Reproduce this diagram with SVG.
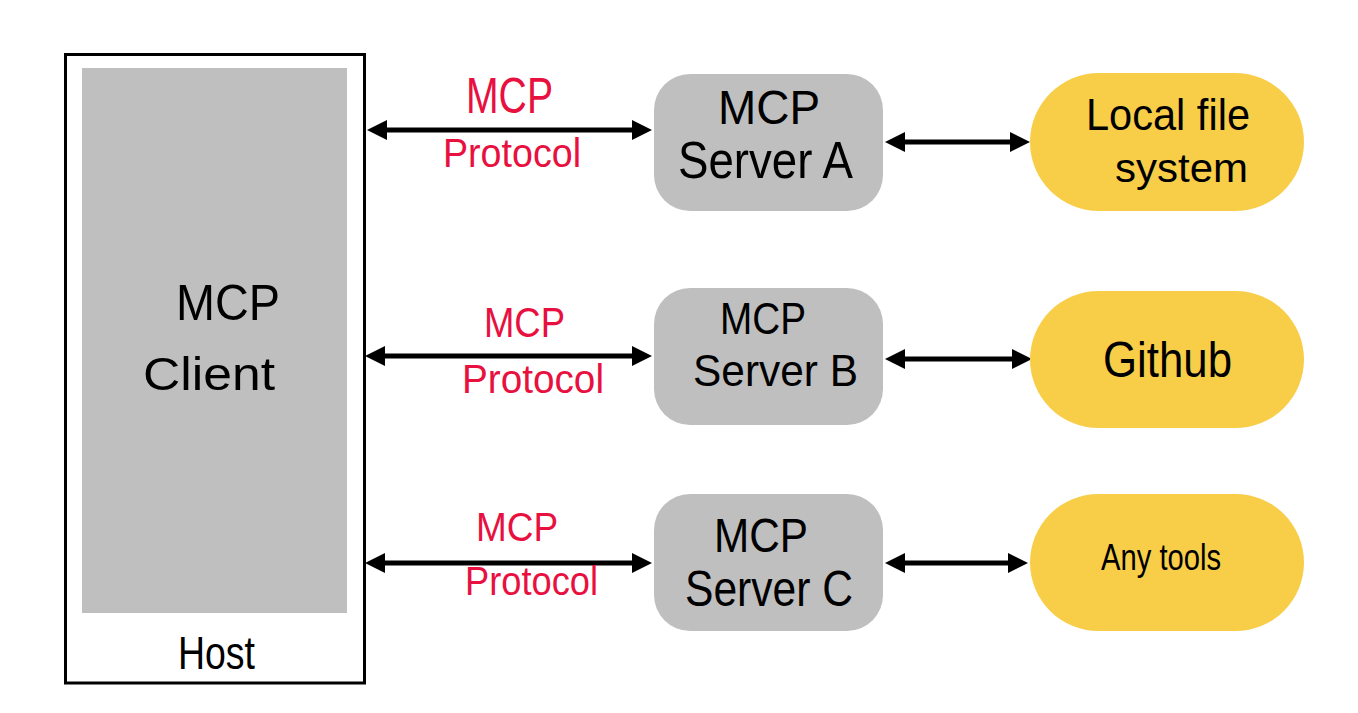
<svg xmlns="http://www.w3.org/2000/svg" width="1358" height="713" viewBox="0 0 1358 713">
<style>
text{font-family:"Liberation Sans",Arial,sans-serif;font-weight:400}
.k{fill:#000}
.r{fill:#e8103f}
.srv{fill:#bfbfbf}
.tool{fill:#f8ce48}
.c{fill:none;stroke:#000;stroke-width:5;marker-start:url(#h);marker-end:url(#h)}
</style>
<defs>
<marker id="h" markerUnits="userSpaceOnUse" markerWidth="21" markerHeight="22" refX="1" refY="11" orient="auto-start-reverse"><path d="M0 1L20 11L0 21Z" fill="#000"/></marker>
</defs>
<rect width="1358" height="713" fill="#fff"/>
<g id="host">
<rect x="65.5" y="54.5" width="299" height="628.500" fill="#fff" stroke="#000" stroke-width="3"/>
<text class="k" x="178" y="669" font-size="46" textLength="77" lengthAdjust="spacingAndGlyphs">Host</text>
</g>
<g id="client">
<rect x="82" y="68" width="265" height="545" fill="#bfbfbf"/>
<text class="k" x="176" y="320" font-size="50" textLength="104" lengthAdjust="spacingAndGlyphs">MCP</text>
<text class="k" x="143" y="390" font-size="46" textLength="132" lengthAdjust="spacingAndGlyphs">Client</text>
</g>
<g id="connectors">
<path class="c" d="M386 130H633"/>
<path class="c" d="M384 356H633"/>
<path class="c" d="M384 563H633"/>
<path class="c" d="M904 142H1011"/>
<path class="c" d="M904 359H1013"/>
<path class="c" d="M904 563H1009"/>
</g>
<g id="label-a">
<text class="r" x="466" y="113" font-size="50" textLength="87" lengthAdjust="spacingAndGlyphs">MCP</text>
<text class="r" x="443" y="167" font-size="40" textLength="138" lengthAdjust="spacingAndGlyphs">Protocol</text>
</g>
<g id="label-b">
<text class="r" x="484" y="337" font-size="42" textLength="81" lengthAdjust="spacingAndGlyphs">MCP</text>
<text class="r" x="462" y="393" font-size="40" textLength="142" lengthAdjust="spacingAndGlyphs">Protocol</text>
</g>
<g id="label-c">
<text class="r" x="476" y="541" font-size="40" textLength="82" lengthAdjust="spacingAndGlyphs">MCP</text>
<text class="r" x="465" y="595" font-size="40" textLength="133" lengthAdjust="spacingAndGlyphs">Protocol</text>
</g>
<g id="server-a">
<rect class="srv" x="654" y="74" width="229" height="137" rx="36"/>
<text class="k" x="718" y="124" font-size="48" textLength="102" lengthAdjust="spacingAndGlyphs">MCP</text>
<text class="k" x="678" y="178" font-size="52" textLength="175" lengthAdjust="spacingAndGlyphs">Server A</text>
</g>
<g id="server-b">
<rect class="srv" x="654" y="288" width="229" height="137" rx="36"/>
<text class="k" x="720" y="334" font-size="44" textLength="86" lengthAdjust="spacingAndGlyphs">MCP</text>
<text class="k" x="693" y="386" font-size="44" textLength="165" lengthAdjust="spacingAndGlyphs">Server B</text>
</g>
<g id="server-c">
<rect class="srv" x="654" y="494" width="229" height="137" rx="36"/>
<text class="k" x="714" y="552" font-size="48" textLength="94" lengthAdjust="spacingAndGlyphs">MCP</text>
<text class="k" x="685" y="606" font-size="50" textLength="168" lengthAdjust="spacingAndGlyphs">Server C</text>
</g>
<g id="tool-local">
<rect class="tool" x="1030" y="73" width="274" height="138" rx="69"/>
<text class="k" x="1086" y="130" font-size="44" textLength="164" lengthAdjust="spacingAndGlyphs">Local file</text>
<text class="k" x="1115" y="182" font-size="40" textLength="133" lengthAdjust="spacingAndGlyphs">system</text>
</g>
<g id="tool-github">
<rect class="tool" x="1030" y="291" width="274" height="137" rx="68.500"/>
<text class="k" x="1103" y="377" font-size="50" textLength="129" lengthAdjust="spacingAndGlyphs">Github</text>
</g>
<g id="tool-any">
<rect class="tool" x="1030" y="494" width="274" height="137" rx="68.500"/>
<text class="k" x="1101" y="570" font-size="36" textLength="120" lengthAdjust="spacingAndGlyphs">Any tools</text>
</g>
</svg>
